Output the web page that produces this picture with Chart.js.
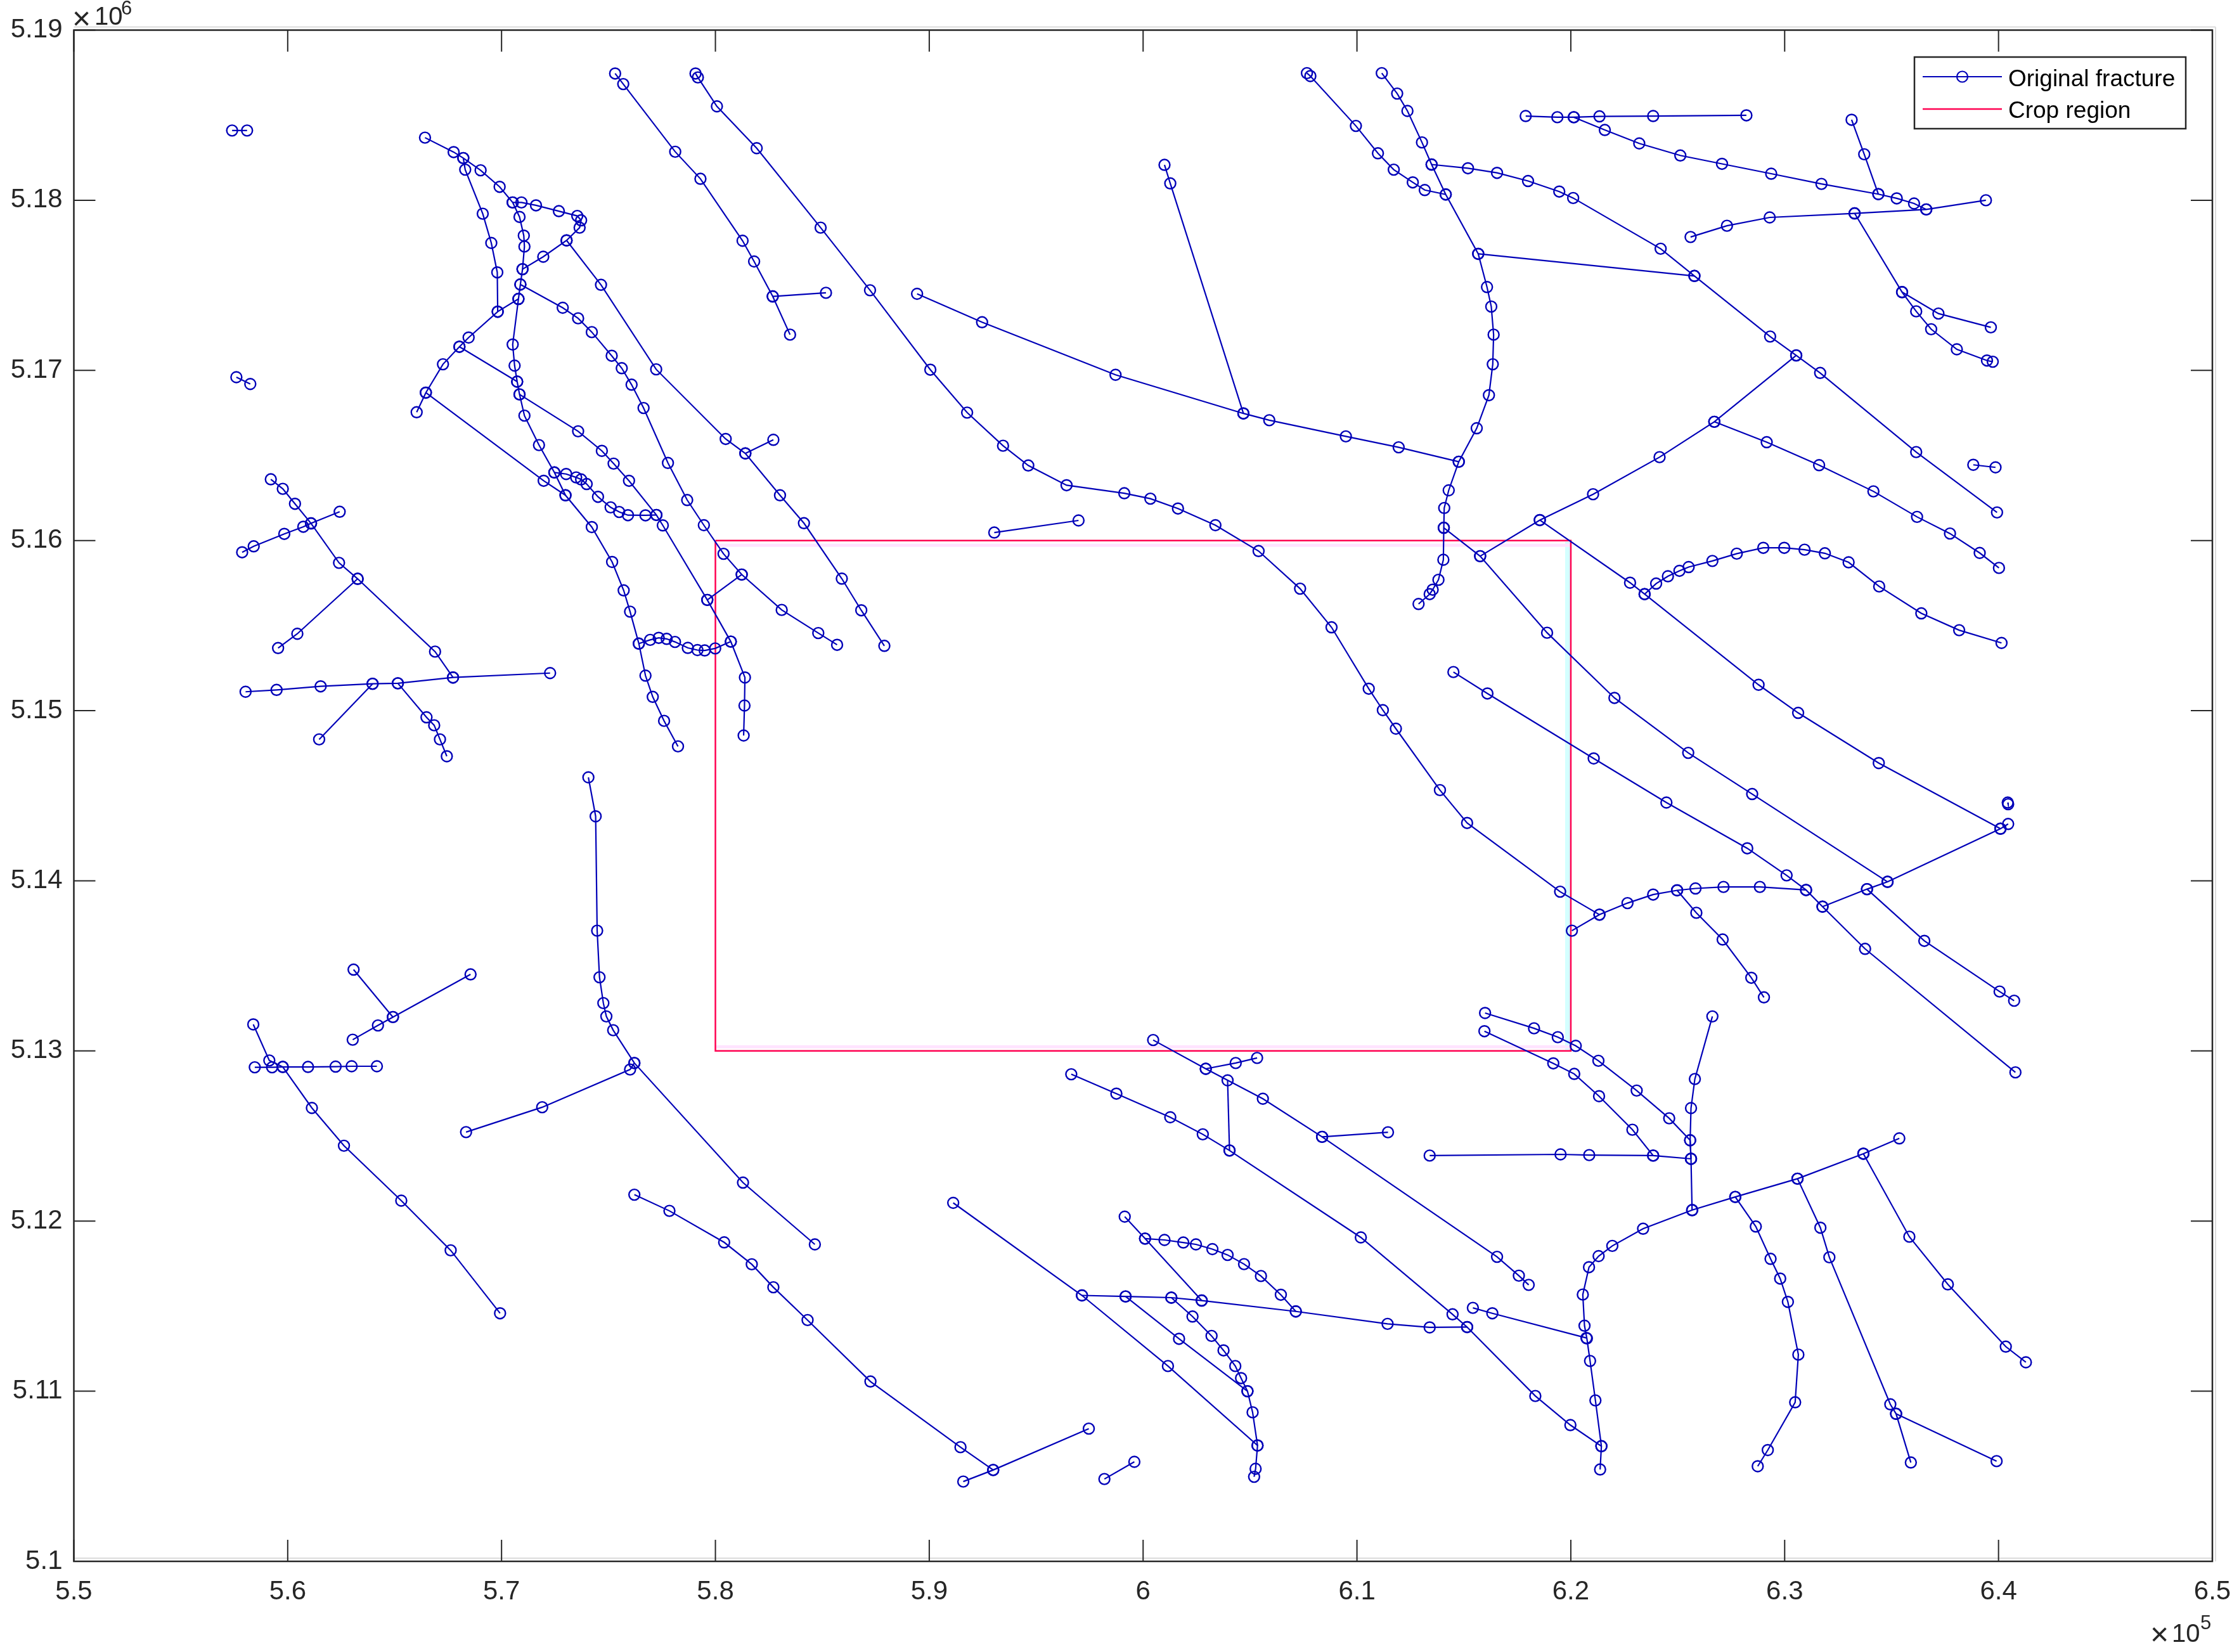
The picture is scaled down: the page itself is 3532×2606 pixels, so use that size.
<!DOCTYPE html>
<html><head><meta charset="utf-8">
<style>html,body{margin:0;padding:0;background:#fff}canvas{display:block}</style>
<script src="https://cdn.jsdelivr.net/npm/chart.js@4/dist/chart.umd.min.js"></script>
</head><body><canvas id="c" width="3532" height="2606"></canvas>
<script>
// Read-off values are [easting, northing] in km; axis units are metres.
const xTickLabels=['5.5','5.6','5.7','5.8','5.9','6','6.1','6.2','6.3','6.4','6.5'];
const yTickLabels=['5.1','5.11','5.12','5.13','5.14','5.15','5.16','5.17','5.18','5.19'];
const seriesNames=['Original fracture','Crop region'];
const cropRegion=[[580,5160],[620,5160],[620,5130],[580,5130],[580,5160]];

const f01=[[557.4,5184.1],[558.1,5184.1]];
const f02=[[557.6,5169.6],[558.25,5169.2]];
const f03=[[566.42,5183.68],[567.76,5182.83],[568.21,5182.48],[569.02,5181.76],[569.91,5180.79],[570.52,5179.87],[570.84,5179.02],[571.04,5177.92],[571.07,5177.28],[570.98,5175.95],[570.88,5175.05],[570.79,5174.2],[570.52,5171.52],[570.61,5170.28],[570.73,5169.34],[570.84,5168.59],[571.07,5167.34],[571.75,5165.61],[572.47,5164],[572.99,5162.66],[574.22,5160.79],[575.17,5158.74],[575.71,5157.07],[576.01,5155.82],[576.42,5153.94],[576.73,5152.06],[577.07,5150.81],[577.6,5149.4],[578.25,5147.9]];
const f04=[[568.21,5182.48],[568.3,5181.8],[569.12,5179.21],[569.52,5177.49],[569.8,5175.76],[569.82,5173.45]];
const f05=[[566.03,5167.54],[566.46,5168.69],[567.26,5170.36],[568.03,5171.39],[568.46,5171.93],[569.82,5173.45],[570.79,5174.2]];
const f06=[[568.03,5171.39],[570.73,5169.34]];
const f07=[[566.46,5168.69],[571.97,5163.51],[572.99,5162.66]];
const f08=[[570.98,5175.95],[571.95,5176.68],[573.04,5177.64],[573.65,5178.39],[573.72,5178.82],[573.54,5179.08],[572.68,5179.36],[571.61,5179.7],[570.93,5179.87],[570.52,5179.87]];
const f09=[[573.04,5177.64],[574.65,5175.03],[577.23,5170.06],[580.48,5165.97],[581.4,5165.12],[583.02,5162.66],[584.14,5161.02],[585.91,5157.76],[586.82,5155.9],[587.9,5153.81]];
const f10=[[581.4,5165.12],[582.71,5165.92]];
const f11=[[570.88,5175.05],[572.86,5173.68],[573.58,5173.06],[574.22,5172.25],[575.15,5170.86],[575.62,5170.13],[576.08,5169.16],[576.64,5167.79],[577.78,5164.56],[578.68,5162.38],[579.46,5160.9],[580.38,5159.22],[581.23,5158],[583.1,5155.92],[584.81,5154.56],[585.69,5153.87]];
const f12=[[570.84,5168.59],[573.58,5166.42],[574.69,5165.27],[575.24,5164.52],[575.96,5163.51],[577.24,5161.5],[577.54,5160.89],[579.62,5156.51],[580.72,5154.06],[581.38,5151.95],[581.36,5150.3],[581.32,5148.54]];
const f13=[[579.62,5156.51],[581.23,5158]];
const f14=[[572.47,5164],[573.02,5163.91],[573.49,5163.71],[573.72,5163.59],[573.98,5163.32],[574.51,5162.57],[575.1,5161.95],[575.5,5161.68],[575.91,5161.49],[576.73,5161.48],[577.24,5161.5]];
const f15=[[576.42,5153.94],[576.95,5154.16],[577.35,5154.28],[577.72,5154.22],[578.11,5154.04],[578.71,5153.69],[579.16,5153.56],[579.5,5153.54],[579.99,5153.66],[580.72,5154.06]];
const f16=[[559.21,5163.6],[559.77,5163.04],[560.34,5162.16],[561.09,5161.01],[562.4,5158.69],[563.27,5157.75],[566.89,5153.47],[567.73,5151.95]];
const f17=[[558.03,5151.11],[559.48,5151.22],[561.54,5151.43],[563.97,5151.58],[565.15,5151.61],[567.73,5151.95],[572.27,5152.21]];
const f18=[[557.87,5159.31],[558.41,5159.66],[559.84,5160.39],[560.73,5160.81],[561.09,5161.01],[562.43,5161.69]];
const f19=[[559.55,5153.68],[560.45,5154.52],[563.27,5157.75]];
const f20=[[561.47,5148.31],[563.97,5151.58]];
const f21=[[565.15,5151.61],[566.49,5149.61],[566.85,5149.14],[567.12,5148.31],[567.44,5147.32]];
const f22=[[574.06,5146.08],[574.4,5143.79],[574.47,5137.07],[574.58,5134.33],[574.76,5132.81],[574.9,5132.03],[575.22,5131.22],[576.21,5129.29],[581.29,5122.26],[584.65,5118.63]];
const f23=[[568.34,5125.23],[571.9,5126.69],[576.01,5128.91],[576.21,5129.29]];
const f24=[[558.46,5129.04],[559.27,5129.04],[559.77,5129.06],[560.95,5129.06],[562.24,5129.08],[562.99,5129.1],[564.17,5129.1]];
const f25=[[558.39,5131.56],[559.14,5129.44],[559.77,5129.06],[561.13,5126.65],[562.63,5124.43],[565.31,5121.2],[567.62,5118.28],[569.93,5114.58]];
const f26=[[563.08,5134.78],[564.92,5131.99]];
const f27=[[563.04,5130.66],[564.22,5131.5],[564.92,5131.99],[568.55,5134.5]];
const f28=[[576.21,5121.55],[577.85,5120.6],[580.41,5118.75],[581.7,5117.46],[582.71,5116.11],[584.31,5114.18],[587.25,5110.57],[591.46,5106.71],[592.99,5105.37]];
const f29=[[591.59,5104.69],[592.99,5105.37],[597.46,5107.8]];
const f30=[[598.19,5104.84],[599.59,5105.85]];
const f31=[[575.31,5187.45],[575.69,5186.83],[578.12,5182.85],[579.3,5181.26],[581.27,5177.62],[581.81,5176.4],[582.68,5174.35],[583.49,5172.1]];
const f32=[[582.68,5174.35],[585.17,5174.56]];
const f33=[[579.07,5187.45],[579.18,5187.22],[580.07,5185.52],[581.93,5183.06],[584.92,5178.39],[587.23,5174.71],[590.05,5170.04],[591.77,5167.52],[593.45,5165.57],[594.63,5164.41],[596.42,5163.25],[599.12,5162.78],[600.34,5162.46],[601.63,5161.88],[603.38,5160.9],[605.4,5159.38],[607.34,5157.17],[608.81,5154.9],[610.55,5151.29],[611.21,5150.03],[611.82,5148.94],[613.88,5145.33],[615.15,5143.4],[619.5,5139.36],[621.34,5138.01]];
const f34=[[620.05,5137.07],[621.34,5138.01],[622.65,5138.69],[623.85,5139.19],[624.97,5139.44],[625.83,5139.55],[627.14,5139.64],[628.84,5139.64],[631,5139.46]];
const f35=[[624.97,5139.44],[625.87,5138.12],[627.1,5136.55],[628.44,5134.3],[629.03,5133.15]];
const f36=[[614.51,5152.27],[616.1,5151.01],[621.07,5147.19],[624.47,5144.6],[628.25,5141.91],[630.09,5140.32],[631,5139.46],[631.77,5138.48],[633.76,5136],[640.79,5128.74]];
const f37=[[631.77,5138.48],[633.85,5139.51],[634.81,5139.94],[640.09,5143.06],[640.45,5143.34]];
const f38=[[614.06,5160.75],[615.76,5159.08],[618.89,5154.58],[622.04,5150.75],[625.49,5147.52],[628.48,5145.1],[634.81,5139.94]];
const f39=[[633.85,5139.51],[636.53,5136.47],[640.05,5133.49],[640.73,5132.95]];
const f40=[[618.55,5161.2],[622.77,5157.52],[623.45,5156.85],[628.78,5151.52],[630.63,5149.87],[634.4,5146.92],[640.09,5143.06]];
const f41=[[615.76,5159.08],[618.55,5161.2],[621.04,5162.72],[624.15,5164.9],[626.71,5166.98],[630.54,5170.88]];
const f42=[[626.71,5166.98],[629.16,5165.78],[631.61,5164.43],[634.15,5162.89],[636.19,5161.39],[637.73,5160.41],[639.12,5159.27],[640.02,5158.39]];
const f43=[[623.45,5156.85],[623.99,5157.47],[624.54,5157.9],[625.08,5158.22],[625.51,5158.44],[626.62,5158.8],[627.76,5159.23],[629,5159.57],[629.98,5159.57],[630.93,5159.46],[631.88,5159.25],[632.99,5158.72],[634.42,5157.3],[636.39,5155.72],[638.16,5154.73],[640.14,5153.98]];
const f44=[[613.49,5182.1],[615.19,5181.88],[616.55,5181.61],[618,5181.13],[619.46,5180.51],[620.11,5180.13],[624.2,5177.15],[625.78,5175.55],[629.32,5171.99],[630.54,5170.88],[631.66,5169.85],[636.15,5165.2],[639.93,5161.65]];
const f45=[[615.67,5176.85],[625.78,5175.55]];
const f46=[[611.16,5187.47],[611.88,5186.27],[612.36,5185.25],[613.04,5183.4],[613.49,5182.1],[614.15,5180.34],[615.67,5176.85],[616.08,5174.9],[616.28,5173.75],[616.39,5172.1],[616.35,5170.36],[616.17,5168.54],[615.6,5166.6],[614.76,5164.63],[614.29,5162.95],[614.08,5161.91],[614.06,5160.75],[614.04,5158.87],[613.81,5157.69],[613.54,5157.11],[613.4,5156.85],[612.88,5156.27]];
const f47=[[607.66,5187.47],[607.82,5187.3],[609.95,5184.37],[610.98,5182.76],[611.72,5181.8],[612.61,5181.05],[613.17,5180.6],[614.15,5180.34]];
const f48=[[589.43,5174.5],[592.47,5172.83],[598.71,5169.74],[604.69,5167.47],[605.9,5167.07],[609.48,5166.12],[611.95,5165.48],[614.76,5164.63]];
const f49=[[601,5182.08],[601.27,5180.99],[604.69,5167.47]];
const f50=[[593.04,5160.47],[596.98,5161.18]];
const f51=[[617.89,5184.95],[619.37,5184.88],[620.14,5184.88],[621.34,5184.93],[623.85,5184.95],[628.21,5184.99]];
const f52=[[620.14,5184.88],[621.59,5184.13],[623.2,5183.34],[625.12,5182.63],[627.07,5182.14],[629.37,5181.56],[631.72,5180.96],[634.38,5180.36],[635.24,5180.11],[636.05,5179.81],[636.62,5179.46]];
const f53=[[633.13,5184.73],[633.72,5182.7],[634.38,5180.36]];
const f54=[[625.6,5177.84],[627.3,5178.5],[629.3,5178.99],[633.27,5179.23],[636.62,5179.46],[639.41,5180]];
const f55=[[633.27,5179.23],[635.49,5174.6],[636.15,5173.47],[636.85,5172.42],[638.05,5171.24],[639.46,5170.58],[639.73,5170.51]];
const f56=[[635.49,5174.6],[637.19,5173.34],[639.64,5172.53]];
const f57=[[638.82,5164.45],[639.86,5164.3]];
const f58=[[640.43,5144.6],[640.45,5144.5]];
const f59=[[615.99,5132.23],[618.28,5131.33],[619.39,5130.81],[620.23,5130.3],[621.29,5129.42],[623.08,5127.67],[624.6,5126.04],[625.58,5124.75],[625.62,5123.66]];
const f60=[[615.96,5131.16],[619.18,5129.27],[620.16,5128.65],[621.32,5127.34],[622.88,5125.37],[623.85,5123.85],[625.62,5123.66]];
const f61=[[613.4,5123.85],[619.52,5123.92],[620.86,5123.88],[623.85,5123.85]];
const f62=[[626.62,5132.03],[625.8,5128.35],[625.62,5126.64],[625.58,5124.75],[625.62,5123.66],[625.67,5120.64]];
const f63=[[621.37,5105.4],[621.43,5106.77],[621.15,5109.46],[620.9,5111.78],[620.75,5113.1],[620.64,5113.85],[620.56,5115.68],[620.85,5117.29],[621.3,5117.94],[621.94,5118.54],[623.38,5119.55],[625.68,5120.65],[627.69,5121.42],[630.6,5122.49],[633.68,5123.96],[635.36,5124.86]];
const f64=[[627.69,5121.42],[628.65,5119.68],[629.34,5117.78],[629.79,5116.62],[630.15,5115.25],[630.64,5112.15],[630.49,5109.35],[629.21,5106.54],[628.74,5105.59]];
const f65=[[630.6,5122.49],[631.67,5119.61],[632.09,5117.87],[634.94,5109.23],[635.21,5108.67],[635.9,5105.81]];
const f66=[[635.21,5108.67],[639.91,5105.89]];
const f67=[[633.68,5123.96],[635.83,5119.08],[637.63,5116.28],[640.34,5112.62],[641.28,5111.7]];
const f68=[[596.64,5128.63],[598.75,5127.49],[601.27,5126.1],[602.79,5125.1],[604.04,5124.15],[610.18,5119.04],[614.47,5114.52],[615.15,5113.77],[618.34,5109.72],[619.98,5108.01],[621.43,5106.77]];
const f69=[[600.47,5130.64],[602.93,5128.95],[605.6,5127.19],[608.37,5124.95],[616.55,5117.9],[617.57,5116.79],[618.03,5116.25]];
const f70=[[602.93,5128.95],[604.33,5129.29],[605.33,5129.59]];
const f71=[[608.37,5124.95],[611.45,5125.22]];
const f72=[[603.95,5128.27],[604.04,5124.15]];
const f73=[[599.14,5120.26],[600.09,5118.97],[602.74,5115.33]];
const f74=[[600.09,5118.97],[601,5118.89],[601.88,5118.74],[602.47,5118.63],[603.24,5118.35],[603.95,5118.01],[604.72,5117.47],[605.51,5116.77],[606.44,5115.67],[607.14,5114.69]];
const f75=[[597.14,5115.63],[599.18,5115.57],[601.32,5115.5],[602.74,5115.33],[607.14,5114.69],[611.43,5113.96],[613.4,5113.75],[615.15,5113.77]];
const f76=[[591.12,5121.07],[597.14,5115.63],[601.16,5111.48],[605.35,5106.81],[605.26,5105.44],[605.19,5104.97]];
const f77=[[599.18,5115.57],[601.68,5113.08],[604.88,5110]];
const f78=[[601.32,5115.5],[602.31,5114.39],[603.2,5113.25],[603.76,5112.4],[604.31,5111.48],[604.58,5110.77],[604.88,5110],[605.12,5108.76],[605.35,5106.81]];
const f79=[[615.42,5114.9],[616.33,5114.58],[620.73,5113.13]];
const fractures=[f01,f02,f03,f04,f05,f06,f07,f08,f09,f10,f11,f12,f13,f14,f15,f16,f17,f18,f19,f20,f21,f22,f23,f24,f25,f26,f27,f28,f29,f30,f31,f32,f33,f34,f35,f36,f37,f38,f39,f40,f41,f42,f43,f44,f45,f46,f47,f48,f49,f50,f51,f52,f53,f54,f55,f56,f57,f58,f59,f60,f61,f62,f63,f64,f65,f66,f67,f68,f69,f70,f71,f72,f73,f74,f75,f76,f77,f78,f79];

const BLUE='#0000b8', RED='#ff0050', INK='#262626', FONT='"Liberation Sans", Arial, sans-serif';
const toPts=a=>a.map(p=>({x:p[0]*1000,y:p[1]*1000}));
const datasets=fractures.map(f=>({label:seriesNames[0],data:toPts(f),borderColor:BLUE,borderWidth:2.2,
  pointRadius:8.5,pointBorderWidth:2.4,pointBorderColor:BLUE,pointBackgroundColor:'rgba(0,0,0,0)',showLine:true,tension:0,fill:false,clip:false}));
datasets.push({label:seriesNames[1],data:toPts(cropRegion),borderColor:RED,borderWidth:2.5,pointRadius:0,showLine:true,tension:0,fill:false});

const frame={id:'frame',
 beforeDatasetsDraw(ch){
  // pale colour fringe that hugs the crop rectangle in the reference
  const c=ch.ctx,sx=ch.scales.x,sy=ch.scales.y;
  const l=sx.getPixelForValue(cropRegion[0][0]*1000),r=sx.getPixelForValue(cropRegion[1][0]*1000);
  const t=sy.getPixelForValue(cropRegion[0][1]*1000),b=sy.getPixelForValue(cropRegion[2][1]*1000);
  c.save();
  c.fillStyle='#d4ffff';c.fillRect(r-9,t+2,8,b-t-4);
  c.fillStyle='#ffe4ff';c.fillRect(l,t+5,r-l,5);c.fillRect(l,b-9,r-l,5);
  c.restore();
 },
 afterDraw(ch){
  const c=ch.ctx,a=ch.chartArea,sx=ch.scales.x,sy=ch.scales.y,T=34;
  c.save();
  // faint edge ghost lines around the box
  c.strokeStyle='#dcdcdc';c.lineWidth=2;c.beginPath();
  c.moveTo(a.left,a.top-5);c.lineTo(a.right+5,a.top-5);
  c.moveTo(a.right+5,a.top-5);c.lineTo(a.right+5,a.bottom);
  c.moveTo(a.left,a.bottom-5);c.lineTo(a.right,a.bottom-5);c.stroke();
  c.strokeStyle=INK;c.lineWidth=2.5;c.strokeRect(a.left,a.top,a.right-a.left,a.bottom-a.top);
  c.lineWidth=2;c.beginPath();
  sx.ticks.forEach(t=>{const p=sx.getPixelForValue(t.value);
    c.moveTo(p,a.bottom);c.lineTo(p,a.bottom-T);c.moveTo(p,a.top);c.lineTo(p,a.top+T);});
  sy.ticks.forEach(t=>{const p=sy.getPixelForValue(t.value);
    c.moveTo(a.left,p);c.lineTo(a.left+T,p);c.moveTo(a.right,p);c.lineTo(a.right-T,p);});
  c.stroke();
  // axis exponents
  c.fillStyle=INK;c.textBaseline='alphabetic';c.textAlign='left';
  c.font='50px '+FONT;c.fillText('\u00d7',114,46);
  c.font='40px '+FONT;c.fillText('10',149,39);
  c.font='31px '+FONT;c.fillText('6',191,23);
  c.font='50px '+FONT;c.fillText('\u00d7',3392,2595);
  c.font='40px '+FONT;c.fillText('10',3426,2590);
  c.font='31px '+FONT;c.fillText('5',3471,2570);
  // legend
  const L=3020,R=3448,Tp=90,B=203,y1=121,y2=172,x0=3033,x1=3158;
  c.fillStyle='#fff';c.fillRect(L,Tp,R-L,B-Tp);
  c.strokeStyle=INK;c.lineWidth=2.5;c.strokeRect(L,Tp,R-L,B-Tp);
  c.lineWidth=2.2;c.strokeStyle=BLUE;c.beginPath();c.moveTo(x0,y1);c.lineTo(x1,y1);c.stroke();
  c.beginPath();c.arc((x0+x1)/2,y1,8.5,0,Math.PI*2);c.stroke();
  c.lineWidth=2.5;c.strokeStyle=RED;c.beginPath();c.moveTo(x0,y2);c.lineTo(x1,y2);c.stroke();
  c.fillStyle='#000';c.font='37px '+FONT;c.textBaseline='middle';
  c.fillText(seriesNames[0],3168,y1+5);c.fillText(seriesNames[1],3168,y2+4);
  c.restore();
}};

new Chart(document.getElementById('c'),{
  type:'line',
  data:{datasets},
  options:{
    responsive:false,animation:false,devicePixelRatio:1,
    layout:{padding:{top:47.5,right:42,left:0,bottom:0}},
    interaction:{mode:null},
    plugins:{legend:{display:false},tooltip:{enabled:false},title:{display:false}},
    scales:{
      x:{type:'linear',min:550000,max:650000,
        grid:{display:false,drawTicks:false},border:{display:false},
        afterFit(s){s.height=143;s.paddingLeft=0;s.paddingRight=0;},
        ticks:{stepSize:10000,autoSkip:false,maxRotation:0,padding:23,color:INK,font:{family:FONT,size:42},
          callback:(v)=>xTickLabels[Math.round((v-550000)/10000)]}},
      y:{type:'linear',min:5100000,max:5190000,
        grid:{display:false,drawTicks:false},border:{display:false},
        afterFit(s){s.width=116.5;s.paddingTop=0;s.paddingBottom=0;},
        ticks:{stepSize:10000,autoSkip:false,padding:18,color:INK,font:{family:FONT,size:42},
          callback:(v)=>yTickLabels[Math.round((v-5100000)/10000)]}}
    }
  },
  plugins:[frame]
});
</script></body></html>
